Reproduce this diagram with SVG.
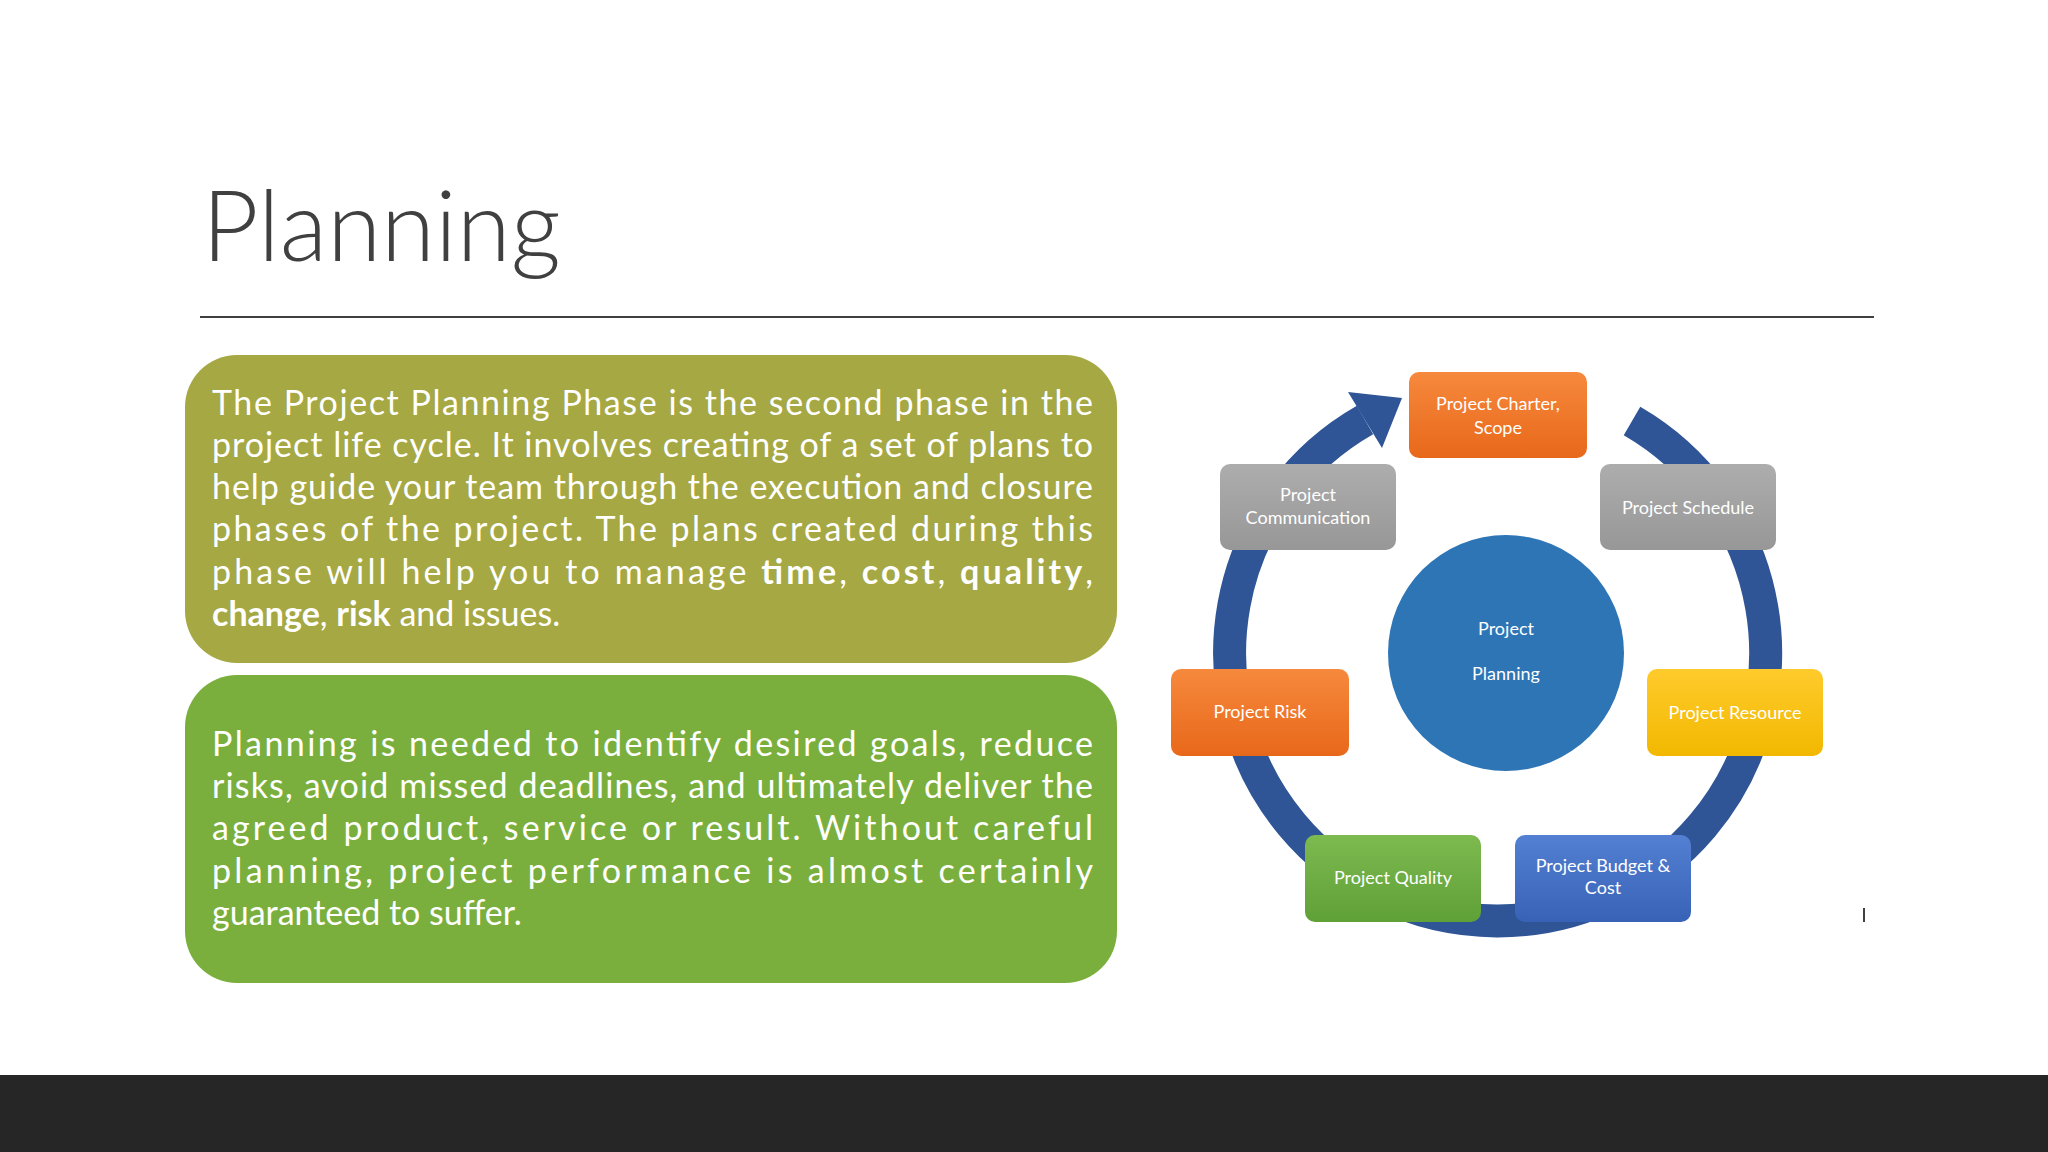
<svg xmlns="http://www.w3.org/2000/svg" width="2048" height="1152" viewBox="0 0 2048 1152">
<defs>
<style>
.body{font-family:Lato,"Open Sans",sans-serif;font-size:34px;fill:#fff}
.lbl{font-family:Lato,"Open Sans",sans-serif;font-size:18px;fill:#fff;text-anchor:middle}
.b{font-weight:bold}
</style>
<linearGradient id="gOr" x1="0" y1="0" x2="0" y2="1"><stop offset="0" stop-color="#F6893D"/><stop offset="1" stop-color="#E8681A"/></linearGradient>
<linearGradient id="gGr" x1="0" y1="0" x2="0" y2="1"><stop offset="0" stop-color="#ADADAD"/><stop offset="1" stop-color="#979797"/></linearGradient>
<linearGradient id="gYe" x1="0" y1="0" x2="0" y2="1"><stop offset="0" stop-color="#FFCB2C"/><stop offset="1" stop-color="#F2B800"/></linearGradient>
<linearGradient id="gGn" x1="0" y1="0" x2="0" y2="1"><stop offset="0" stop-color="#7DBA50"/><stop offset="1" stop-color="#5FA037"/></linearGradient>
<linearGradient id="gBl" x1="0" y1="0" x2="0" y2="1"><stop offset="0" stop-color="#5380D2"/><stop offset="1" stop-color="#3862B6"/></linearGradient>
</defs>
<rect width="2048" height="1152" fill="#fff"/>
<text x="202" y="261" font-family="Lato,'Open Sans',sans-serif" font-weight="300" font-size="98" fill="#404040">Planning</text>
<line x1="200" y1="317" x2="1874" y2="317" stroke="#404040" stroke-width="2"/>
<g id="box1">
<rect x="185" y="355" width="932" height="308" rx="52" fill="#A5A843"/>
<text class="body" x="212" y="415" textLength="881" lengthAdjust="spacing">The Project Planning Phase is the second phase in the</text>
<text class="body" x="212" y="457" textLength="881" lengthAdjust="spacing">project life cycle. It involves creating of a set of plans to</text>
<text class="body" x="212" y="499" textLength="881" lengthAdjust="spacing">help guide your team through the execution and closure</text>
<text class="body" x="212" y="541" textLength="881" lengthAdjust="spacing">phases of the project. The plans created during this</text>
<text class="body" x="212" y="584" textLength="881" lengthAdjust="spacing">phase will help you to manage <tspan class="b">time</tspan>, <tspan class="b">cost</tspan>, <tspan class="b">quality</tspan>,</text>
<text class="body" x="212" y="626"><tspan class="b">change</tspan>, <tspan class="b">risk</tspan> and issues.</text>
</g>
<g id="box2">
<rect x="185" y="675" width="932" height="308" rx="52" fill="#7AAF3D"/>
<text class="body" x="212" y="756" textLength="881" lengthAdjust="spacing">Planning is needed to identify desired goals, reduce</text>
<text class="body" x="212" y="798" textLength="881" lengthAdjust="spacing">risks, avoid missed deadlines, and ultimately deliver the</text>
<text class="body" x="212" y="840" textLength="881" lengthAdjust="spacing">agreed product, service or result. Without careful</text>
<text class="body" x="212" y="883" textLength="881" lengthAdjust="spacing">planning, project performance is almost certainly</text>
<text class="body" x="212" y="925">guaranteed to suffer.</text>
</g>
<g id="connectors">
<path d="M1632 421 A268 268 0 1 1 1365 420" fill="none" stroke="#2F5597" stroke-width="33"/>
<polygon points="1402,398 1348,392 1382,448" fill="#2F5597"/>
</g>
<g id="center">
<circle cx="1506" cy="653" r="118" fill="#2E75B6"/>
<text class="lbl" x="1506" y="635" font-size="31">Project</text>
<text class="lbl" x="1506" y="680" font-size="31">Planning</text>
</g>
<g id="charter"><rect x="1409" y="372" width="178" height="86" rx="10" fill="url(#gOr)"/><text class="lbl" x="1498" y="410">Project Charter,</text><text class="lbl" x="1498" y="434">Scope</text></g>
<g id="schedule"><rect x="1600" y="464" width="176" height="86" rx="10" fill="url(#gGr)"/><text class="lbl" x="1688" y="514" font-size="19">Project Schedule</text></g>
<g id="communication"><rect x="1220" y="464" width="176" height="86" rx="10" fill="url(#gGr)"/><text class="lbl" x="1308" y="501">Project</text><text class="lbl" x="1308" y="524">Communication</text></g>
<g id="risk"><rect x="1171" y="669" width="178" height="87" rx="10" fill="url(#gOr)"/><text class="lbl" x="1260" y="718">Project Risk</text></g>
<g id="resource"><rect x="1647" y="669" width="176" height="87" rx="10" fill="url(#gYe)"/><text class="lbl" x="1735" y="719" font-size="19">Project Resource</text></g>
<g id="quality"><rect x="1305" y="835" width="176" height="87" rx="10" fill="url(#gGn)"/><text class="lbl" x="1393" y="884">Project Quality</text></g>
<g id="budget"><rect x="1515" y="835" width="176" height="87" rx="10" fill="url(#gBl)"/><text class="lbl" x="1603" y="872">Project Budget &amp;</text><text class="lbl" x="1603" y="894">Cost</text></g>
<line x1="1864" y1="908" x2="1864" y2="922" stroke="#404040" stroke-width="2"/>
<rect x="0" y="1075" width="2048" height="77" fill="#262626"/>
</svg>
